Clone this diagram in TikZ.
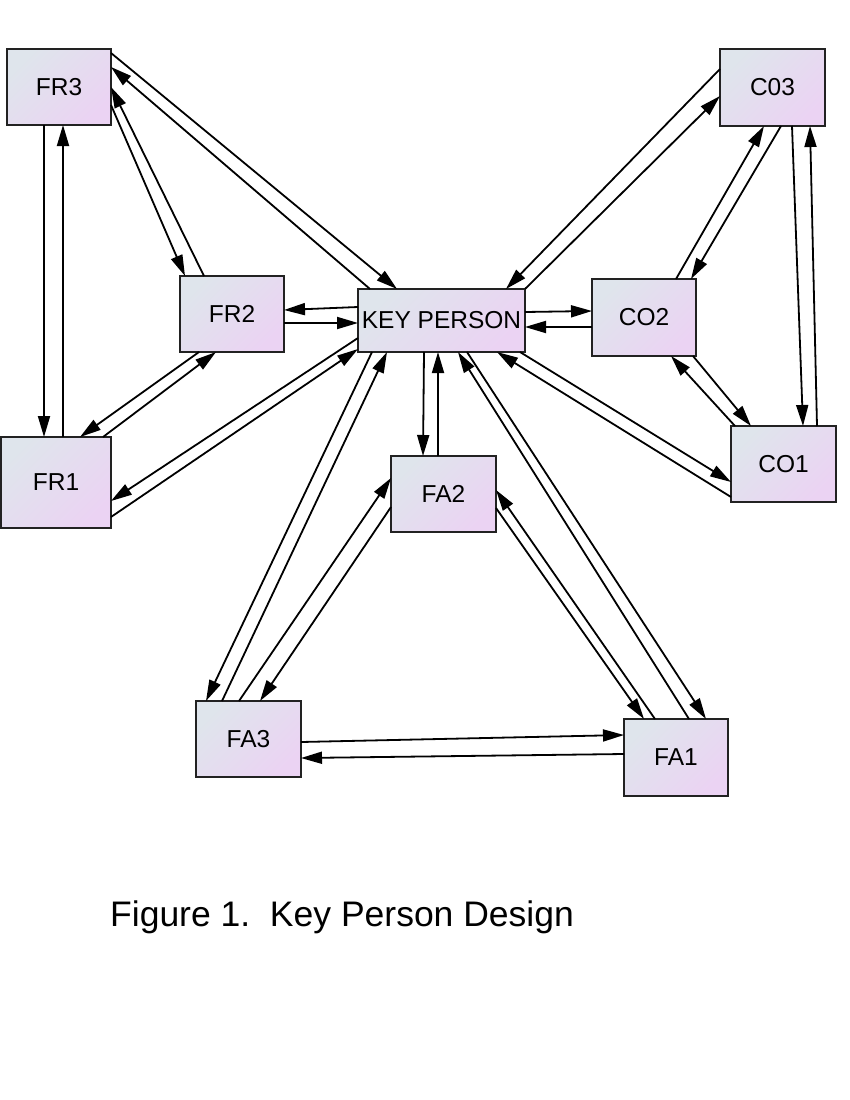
\documentclass[tikz,border=0pt]{standalone}
\usepackage{fontspec}
\setmainfont{Liberation Sans}
\usetikzlibrary{arrows.meta,calc}
\definecolor{boxtl}{HTML}{DFE5EC}
\definecolor{boxbr}{HTML}{EBD3F3}
\definecolor{boxline}{HTML}{222222}
\begin{document}
\begin{tikzpicture}[x=1pt,y=-1pt,
  box/.style={rectangle, draw=boxline, line width=1.8pt, inner sep=0pt,
    minimum width=104pt, minimum height=76pt,
    top color=boxtl, bottom color=boxbr, shading angle=45,
    font=\fontsize{24.5}{28}\selectfont},
  link/.style={line width=1.8pt, -{Triangle[length=21pt,width=12pt]}}]
\fill[white] (0,0) rectangle (850,1100);
\useasboundingbox (0,0) rectangle (850,1100);

% nodes
\node[box] (FR3) at (59,87) {FR3};
\node[box, minimum width=105pt, minimum height=77pt] (C03) at (772.5,87.5) {C03};
\node[box] (FR2) at (232,314) {FR2};
\node[box, minimum width=167pt, minimum height=63pt, font=\fontsize{24.5}{28}\selectfont] (KP) at (441.5,320.5) {KEY PERSON};
\node[box, minimum height=77pt] (CO2) at (644,317.5) {CO2};
\node[box, minimum width=110pt, minimum height=91pt] (FR1) at (56,482.5) {FR1};
\node[box, minimum width=105pt] (FA2) at (443.5,494) {FA2};
\node[box, minimum width=105pt] (CO1) at (783.5,464) {CO1};
\node[box, minimum width=105pt] (FA3) at (248.5,739) {FA3};
\node[box, minimum height=77pt] (FA1) at (676,757.5) {FA1};

% FR3 <-> FR1
\draw[link] ($(FR3)+(-15,38)$) -- ($(FR1)+(-12,-45.5)$);
\draw[link] ($(FR1)+(7,-45.5)$) -- ($(FR3)+(4,38)$);
% FR3 <-> FR2
\draw[link] ($(FR3)+(52,18)$) -- ($(FR2)+(-47,-38)$);
\draw[link] ($(FR2)+(-28,-38)$) -- ($(FR3)+(52,0)$);
% FR3 <-> KP
\draw[link] ($(FR3)+(52,-34)$) -- ($(KP)+(-44.5,-31.5)$);
\draw[link] ($(KP)+(-71.5,-31.5)$) -- ($(FR3)+(52,-20)$);
% KP <-> FR2
\draw[link] ($(KP)+(-83.5,-13.5)$) -- ($(FR2)+(52,-4)$);
\draw[link] ($(FR2)+(52,9)$) -- ($(KP)+(-83.5,2.5)$);
% FR2 <-> FR1
\draw[link] ($(FR2)+(-33,38)$) -- ($(FR1)+(24,-45.5)$);
\draw[link] ($(FR1)+(47,-45.5)$) -- ($(FR2)+(-16,38)$);
% KP <-> FR1
\draw[link] ($(KP)+(-83.5,17.5)$) -- ($(FR1)+(55,18.5)$);
\draw[link] ($(FR1)+(55,34.5)$) -- ($(KP)+(-83.5,28.5)$);
% KP <-> FA3
\draw[link] ($(KP)+(-69.5,31.5)$) -- ($(FA3)+(-42.5,-38)$);
\draw[link] ($(FA3)+(-26.5,-38)$) -- ($(KP)+(-54.5,31.5)$);
% KP <-> FA2
\draw[link] ($(KP)+(-17.5,31.5)$) -- ($(FA2)+(-20.5,-38)$);
\draw[link] ($(FA2)+(-5.5,-38)$) -- ($(KP)+(-3.5,31.5)$);
% KP <-> FA1
\draw[link] ($(KP)+(25.5,31.5)$) -- ($(FA1)+(30,-38.5)$);
\draw[link] ($(FA1)+(13,-38.5)$) -- ($(KP)+(16.5,31.5)$);
% KP <-> CO1
\draw[link] ($(KP)+(78.5,31.5)$) -- ($(CO1)+(-52.5,18)$);
\draw[link] ($(CO1)+(-52.5,33)$) -- ($(KP)+(55.5,31.5)$);
% KP <-> CO2
\draw[link] ($(KP)+(83.5,-8.5)$) -- ($(CO2)+(-52,-6.5)$);
\draw[link] ($(CO2)+(-52,9.5)$) -- ($(KP)+(83.5,6.5)$);
% C03 <-> KP
\draw[link] ($(C03)+(-52.5,-18.5)$) -- ($(KP)+(64.5,-31.5)$);
\draw[link] ($(KP)+(83.5,-31.5)$) -- ($(C03)+(-52.5,8.5)$);
% C03 <-> CO2
\draw[link] ($(C03)+(8.5,38.5)$) -- ($(CO2)+(47,-38.5)$);
\draw[link] ($(CO2)+(32,-38.5)$) -- ($(C03)+(-8.5,38.5)$);
% C03 <-> CO1
\draw[link] ($(C03)+(19.5,38.5)$) -- ($(CO1)+(19.5,-38)$);
\draw[link] ($(CO1)+(33.5,-38)$) -- ($(C03)+(37.5,38.5)$);
% CO2 <-> CO1
\draw[link] ($(CO2)+(49,38.5)$) -- ($(CO1)+(-32.5,-38)$);
\draw[link] ($(CO1)+(-48.5,-38)$) -- ($(CO2)+(27,38.5)$);
% FA3 <-> FA2
\draw[link] ($(FA3)+(-9.5,-38)$) -- ($(FA2)+(-52.5,-16)$);
\draw[link] ($(FA2)+(-52.5,13)$) -- ($(FA3)+(11.5,-38)$);
% FA3 <-> FA1
\draw[link] ($(FA3)+(52.5,3)$) -- ($(FA1)+(-52,-22.5)$);
\draw[link] ($(FA1)+(-52,-3.5)$) -- ($(FA3)+(52.5,19)$);
% FA2 <-> FA1
\draw[link] ($(FA2)+(52.5,14)$) -- ($(FA1)+(-32,-38.5)$);
\draw[link] ($(FA1)+(-21,-38.5)$) -- ($(FA2)+(52.5,-4)$);

% caption
\node[anchor=base west, inner sep=0pt, font=\fontsize{35.5}{42}\selectfont] (cap) at (110,926) {Figure 1.\ \ Key Person Design};
\end{tikzpicture}
\end{document}
